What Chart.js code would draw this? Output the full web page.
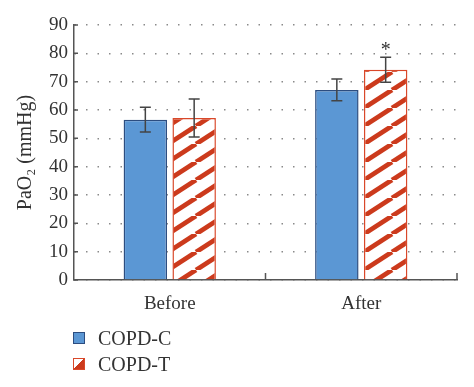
<!DOCTYPE html>
<html>
<head>
<meta charset="utf-8">
<script src="https://cdn.jsdelivr.net/npm/chart.js@4.4.1/dist/chart.umd.min.js"></script>
<style>
html, body { margin: 0; padding: 0; background: #fff; }
#wrap { position: relative; width: 474px; height: 387px; }
#legend { position: absolute; left: 73px; top: 325px; font-family: "Liberation Serif", "DejaVu Serif", serif; font-size: 20px; color: #333; }
#legend div { height: 26px; line-height: 26px; }
#legend span.box { display: inline-block; width: 10px; height: 10px; margin-right: 13px; vertical-align: 1px; }
</style>
</head>
<body>
<div id="wrap">
  <canvas id="myChart" width="474" height="387"></canvas>
  <div id="legend"></div>
</div>
<script>
// values
var categories = ["Before", "After"];
var seriesNames = ["COPD-C", "COPD-T"];
var copdC = [56.6, 67.1];
var copdCErr = [4.4, 3.8];
var copdT = [57.2, 74.2];
var copdTErr = [6.7, 4.4];
var marks = ["", "*"];   // significance over COPD-T
var yMin = 0, yMax = 90, yStep = 10;

var serif = "'Liberation Serif', 'DejaVu Serif', serif";

function hatch() {
    var c = document.createElement('canvas');
    c.width = 28; c.height = 18;
    var g = c.getContext('2d');
    g.fillStyle = '#fff';
    g.fillRect(0, 0, 28, 18);
    g.strokeStyle = '#cc3a1c';
    g.lineWidth = 4.8;
    for (var k = -1; k <= 1; k++) {
        g.beginPath();
        g.moveTo(k * 28, 18);
        g.lineTo(k * 28 + 28, 0);
        g.stroke();
    }
    return g.createPattern(c, 'repeat');
}

var errors = [copdCErr, copdTErr];

var errorBars = {
    id: 'errorBars',
    afterDatasetsDraw: function (chart) {
        var ctx = chart.ctx, y = chart.scales.y;
        ctx.save();
        chart.data.datasets.forEach(function (ds, i) {
            chart.getDatasetMeta(i).data.forEach(function (bar, j) {
                var v = ds.data[j], e = errors[i][j];
                var hi = y.getPixelForValue(v + e), lo = y.getPixelForValue(v - e);
                ctx.strokeStyle = '#444';
                ctx.lineWidth = 1.5;
                ctx.beginPath();
                ctx.moveTo(bar.x, hi); ctx.lineTo(bar.x, lo);
                ctx.moveTo(bar.x - 5.5, hi); ctx.lineTo(bar.x + 5.5, hi);
                ctx.moveTo(bar.x - 5.5, lo); ctx.lineTo(bar.x + 5.5, lo);
                ctx.stroke();
                if (i === 1 && marks[j]) {
                    ctx.fillStyle = '#333';
                    ctx.font = '20px ' + serif;
                    ctx.textAlign = 'center';
                    ctx.textBaseline = 'alphabetic';
                    ctx.fillText(marks[j], bar.x, hi - 1);
                }
            });
        });
        ctx.restore();
    }
};

// short inward ticks: category boundaries on x, every label on y
var frameTicks = {
    id: 'frameTicks',
    afterDraw: function (chart) {
        var ctx = chart.ctx, x = chart.scales.x, y = chart.scales.y, a = chart.chartArea;
        var w = (x.right - x.left) / categories.length;
        ctx.save();
        ctx.strokeStyle = '#555';
        ctx.lineWidth = 1.5;
        ctx.beginPath();
        for (var i = 1; i <= categories.length; i++) {
            var px = x.left + i * w;
            ctx.moveTo(px, a.bottom); ctx.lineTo(px, a.bottom - 7);
        }
        y.ticks.forEach(function (t) {
            var py = y.getPixelForValue(t.value);
            ctx.moveTo(a.left, py); ctx.lineTo(a.left + 4, py);
        });
        ctx.stroke();
        ctx.restore();
    }
};

const chart = document.getElementById("myChart");
var barChart = new Chart(chart, {
    type: 'bar',
    data: {
        labels: categories,
        datasets: [
            {
                label: seriesNames[0],
                data: copdC,
                backgroundColor: '#5b97d4',
                borderColor: '#2c4d80',
                borderWidth: 1.5,
                categoryPercentage: 0.51,
                barPercentage: 0.89
            },
            {
                label: seriesNames[1],
                data: copdT,
                backgroundColor: hatch(),
                borderColor: '#d9482a',
                borderWidth: 1.5,
                categoryPercentage: 0.51,
                barPercentage: 0.89
            }
        ]
    },
    options: {
        responsive: false,
        animation: false,
        layout: { padding: { top: 25, right: 17, bottom: 0, left: 0 } },
        plugins: { legend: { display: false }, tooltip: { enabled: false } },
        scales: {
            x: {
                grid: { display: false },
                border: { color: '#555', width: 1.5 },
                ticks: { color: '#333', font: { family: serif, size: 19 }, padding: 5 },
                afterFit: function (s) { s.height = 107; }
            },
            y: {
                min: yMin, max: yMax,
                ticks: { stepSize: yStep, color: '#333', font: { family: serif, size: 19 }, padding: 6 },
                grid: { color: '#8a8a8a', lineWidth: 1.5, drawTicks: false },
                border: { color: '#555', width: 1.5, dash: [1.5, 10] },
                title: { display: true, text: 'PaO\u2082 (mmHg)', color: '#333', font: { family: serif, size: 20 }, padding: { top: 14, bottom: 0 } },
                afterFit: function (s) { s.width = 74; }
            }
        }
    },
    plugins: [errorBars, frameTicks]
});

var boxes = [
    'background:#5b97d4;border:1.5px solid #2c4d80;',
    'background:linear-gradient(to bottom right,#fff 50%,#cc3a1c 50%);border:1.5px solid #d9482a;'
];
var html = '';
seriesNames.forEach(function (n, i) {
    html += '<div><span class="box" style="' + boxes[i] + '"></span>' + n + '</div>';
});
document.getElementById('legend').innerHTML = html;
</script>
</body>
</html>
